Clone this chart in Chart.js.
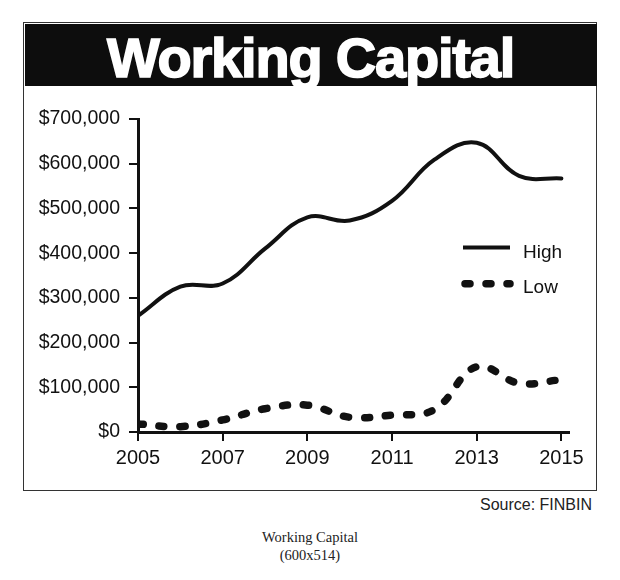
<!DOCTYPE html>
<html>
<head>
<meta charset="utf-8">
<script src="https://cdn.jsdelivr.net/npm/chart.js@4.4.1/dist/chart.umd.min.js"></script>
<style>
  html, body { margin:0; padding:0; background:#fff; width:620px; height:580px; overflow:hidden; }
  #box { position:absolute; left:23px; top:22px; width:572px; height:467px; border:1.5px solid #333; }
  #banner { position:absolute; left:24.5px; top:23.5px; width:572px; height:62.5px; background:#0d0d0d; }
  #title { position:absolute; left:24.5px; width:572px; top:30px; text-align:center; color:#fff;
           font-family:"Liberation Sans", Arial, sans-serif; font-weight:bold; font-size:56px; line-height:56px;
           letter-spacing:-1.2px; -webkit-text-stroke:1.6px #fff; white-space:nowrap; }
  #chart { position:absolute; left:26px; top:86px; }
  #source { position:absolute; right:28px; top:495px; font-family:"Liberation Sans",Arial,sans-serif;
            font-size:16px; line-height:20px; color:#222; white-space:nowrap; }
  #caption { position:absolute; left:0; width:620px; top:528px; text-align:center; font-family:"Liberation Serif","Times New Roman",serif;
             font-size:14.5px; line-height:18px; color:#222; }
</style>
</head>
<body>
<div id="box"></div>
<div id="banner"></div>
<div id="title">Working Capital</div>
<canvas id="chart" width="568" height="403"></canvas>
<div id="source">Source: FINBIN</div>
<div id="caption">Working Capital<br>(600x514)</div>
<script>
const years = [2005, 2006, 2007, 2008, 2009, 2010, 2011, 2012, 2013, 2014, 2015];
const highValues = [260000, 325000, 332000, 410000, 480000, 473000, 517000, 609000, 647000, 573000, 567000];
const lowValues = [18000, 12000, 27000, 52000, 60000, 33000, 38000, 50000, 146000, 109000, 117000];
const seriesNames = ['High', 'Low'];
const xTickLabels = [2005, 2007, 2009, 2011, 2013, 2015];
const yTickValues = [0, 100000, 200000, 300000, 400000, 500000, 600000, 700000];

const sans = '"Liberation Sans", Arial, sans-serif';
const ink = '#111';
const lowDash = [5, 16];

const insideLegend = {
  id: 'insideLegend',
  afterDatasetsDraw(chart) {
    const { ctx, chartArea: a } = chart;
    ctx.save();
    ctx.strokeStyle = ink;
    ctx.lineCap = 'butt';
    ctx.lineWidth = 4;
    ctx.setLineDash([]);
    ctx.beginPath();
    ctx.moveTo(a.left + 325, a.top + 128.4);
    ctx.lineTo(a.left + 372, a.top + 128.4);
    ctx.stroke();
    ctx.lineWidth = 7.5;
    ctx.lineCap = 'round';
    ctx.setLineDash(lowDash);
    ctx.beginPath();
    ctx.moveTo(a.left + 327, a.top + 164.7);
    ctx.lineTo(a.left + 372, a.top + 164.7);
    ctx.stroke();
    ctx.setLineDash([]);
    ctx.fillStyle = ink;
    ctx.font = '19px ' + sans;
    ctx.textAlign = 'left';
    ctx.textBaseline = 'alphabetic';
    ctx.fillText(seriesNames[0], a.left + 385, a.top + 139);
    ctx.fillText(seriesNames[1], a.left + 385, a.top + 174);
    ctx.restore();
  }
};

new Chart(document.getElementById('chart'), {
  type: 'line',
  data: {
    datasets: [
      {
        label: seriesNames[0],
        data: years.map((x, i) => ({ x, y: highValues[i] })),
        borderColor: ink, borderWidth: 4, tension: 0.4, pointRadius: 0, fill: false,
        borderCapStyle: 'round'
      },
      {
        label: seriesNames[1],
        data: years.map((x, i) => ({ x, y: lowValues[i] })),
        borderColor: ink, borderWidth: 7.5, tension: 0.4, pointRadius: 0, fill: false,
        borderDash: lowDash, borderCapStyle: 'round'
      }
    ]
  },
  options: {
    responsive: false,
    animation: false,
    layout: { padding: { top: 33, right: 25, left: 0, bottom: 0 } },
    plugins: { legend: { display: false }, tooltip: { enabled: false } },
    scales: {
      x: {
        type: 'linear', min: 2005, max: 2015.18,
        afterBuildTicks: s => { s.ticks = xTickLabels.map(v => ({ value: v })); },
        afterFit: s => { s.height = 57; },
        grid: { display: true, drawOnChartArea: false, drawTicks: true, tickLength: 9, color: ink, lineWidth: 2 },
        border: { display: true, color: ink, width: 3 },
        ticks: { color: ink, font: { family: sans, size: 20 }, padding: 5, maxRotation: 0, autoSkip: false,
                 callback: v => String(v) }
      },
      y: {
        min: 0, max: 700000,
        afterBuildTicks: s => { s.ticks = yTickValues.map(v => ({ value: v })); },
        afterFit: s => { s.width = 112; },
        grid: { display: true, drawOnChartArea: false, drawTicks: true, tickLength: 9, color: ink, lineWidth: 2 },
        border: { display: true, color: ink, width: 3 },
        ticks: { color: ink, font: { family: sans, size: 19.5 }, padding: 9,
                 callback: v => '$' + Number(v).toLocaleString('en-US') }
      }
    }
  },
  plugins: [insideLegend]
});
</script>
</body>
</html>
